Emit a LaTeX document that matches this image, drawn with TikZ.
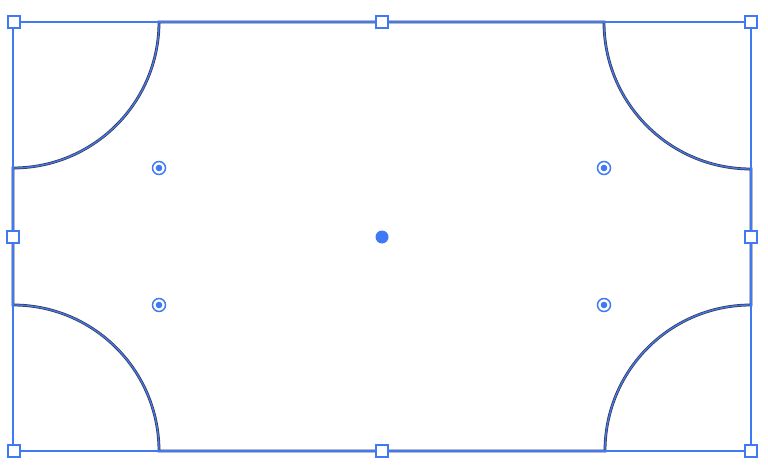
\documentclass[tikz,border=0pt]{standalone}
\usetikzlibrary{positioning}
\definecolor{selblue}{HTML}{4079F5}
\definecolor{pathgray}{HTML}{3A3A48}
\tikzset{
  handle/.style={draw=selblue, fill=white, line width=1.5pt, minimum size=12pt, inner sep=0pt},
  widget/.style={circle, draw=selblue, fill=white, line width=1.5pt, minimum size=13pt, inner sep=0pt},
}
\newcommand{\cutoutline}{(159, 22) -- (604, 22)
    arc [start angle=180, end angle=90, radius=147] -- (751, 305)
    arc [start angle=270, end angle=180, radius=146] -- (159, 451)
    arc [start angle=0, end angle=-90, radius=146] -- (13, 168)
    arc [start angle=90, end angle=0, radius=146] -- cycle}

\begin{document}
\begin{tikzpicture}[x=1pt, y=-1pt]
  \useasboundingbox (0, 0) rectangle (768, 473);

  % shape with the rounded-in corners
  \draw [color=pathgray, line width=2.8pt] \cutoutline;
  \draw [color=selblue, line width=1.3pt] \cutoutline;

  % selection box
  \draw [color=selblue, line width=1.6pt] (13, 22) rectangle (751, 451);

  \node [handle] (tl) at (14, 22) {};
  \node [handle] (tm) at (382, 22) {};
  \node [handle] (tr) at (751, 22) {};
  \node [handle] (ml) at (13, 237) {};
  \node [handle] (mr) at (751, 237) {};
  \node [handle] (bl) at (14, 451) {};
  \node [handle] (bm) at (382, 451) {};
  \node [handle] (br) at (751, 451) {};

  % corner radius widgets
  \node [widget] (wtl) at (159, 168) {};
  \node [widget] (wtr) at (604, 168) {};
  \node [widget] (wbl) at (159, 305) {};
  \node [widget] (wbr) at (604, 305) {};
  \foreach \w in {wtl, wtr, wbl, wbr}
    \fill [color=selblue] (\w) circle (3.3);

  % centre point
  \fill [color=selblue] (382, 237) circle (6.5);
\end{tikzpicture}
\end{document}
